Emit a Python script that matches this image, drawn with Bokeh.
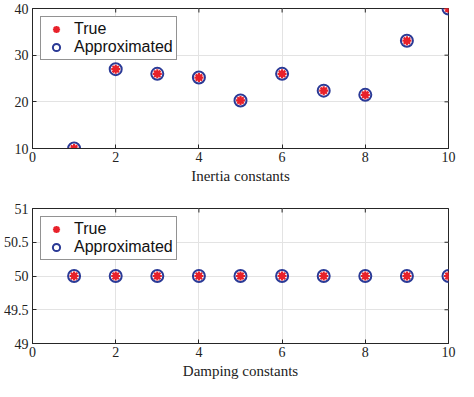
import math
from bokeh.plotting import figure
from bokeh.layouts import column
from bokeh.models import Range1d, FixedTicker, Legend, LegendItem
from bokeh.embed import file_html
from bokeh.resources import INLINE

# ---- data ----
inertia_x = [1, 2, 3, 4, 5, 6, 7, 8, 9, 10]
inertia_true = [10.0, 27.0, 26.0, 25.2, 20.3, 26.0, 22.4, 21.5, 33.1, 40.0]
inertia_approx = [10.0, 27.0, 26.0, 25.2, 20.3, 26.0, 22.4, 21.5, 33.1, 40.0]

damping_x = [1, 2, 3, 4, 5, 6, 7, 8, 9, 10]
damping_true = [50, 50, 50, 50, 50, 50, 50, 50, 50, 50]
damping_approx = [50, 50, 50, 50, 50, 50, 50, 50, 50, 50]

x_ticks = [0, 2, 4, 6, 8, 10]
top_y_ticks = [10, 20, 30, 40]
bot_y_ticks = [49, 49.5, 50, 50.5, 51]
bot_y_tick_labels = ["49", "49.5", "50", "50.5", "51"]

SERIF = "Liberation Serif"
SANS = "Liberation Sans"
DARK = "#262626"
BLUE = "#2b3a96"
RED = "#e8212a"


def make_fig(xs, ytrue, yapprox, yr, yticks, ylabels, xlabel, height, top_border):
    xr = (x_ticks[0], x_ticks[-1])
    p = figure(width=458, height=height, output_backend="svg", toolbar_location=None,
               x_range=Range1d(*xr), y_range=Range1d(*yr),
               min_border_left=10, min_border_right=10, min_border_top=top_border,
               min_border_bottom=0)
    p.outline_line_color = DARK
    p.outline_line_width = 1
    for ax in (p.xaxis[0], p.yaxis[0]):
        ax.axis_line_color = DARK
        ax.major_tick_line_color = DARK
        ax.major_tick_in = 4
        ax.major_tick_out = 0
        ax.minor_tick_line_color = None
        ax.major_label_text_font = SERIF
        ax.major_label_text_font_size = "14px"
        ax.major_label_text_color = "#222222"
        ax.major_label_standoff = 4
    p.xaxis[0].major_label_standoff = 3
    p.xaxis[0].ticker = FixedTicker(ticks=x_ticks)
    p.yaxis[0].ticker = FixedTicker(ticks=yticks)
    if ylabels is not None:
        p.yaxis[0].major_label_overrides = {t: l for t, l in zip(yticks, ylabels)}
    p.xaxis[0].axis_label = xlabel
    p.xaxis[0].axis_label_text_font = SERIF
    p.xaxis[0].axis_label_text_font_style = "normal"
    p.xaxis[0].axis_label_text_font_size = "15px"
    p.xaxis[0].axis_label_text_color = "#222222"
    p.xaxis[0].axis_label_standoff = 3

    p.xgrid.ticker = FixedTicker(ticks=x_ticks)
    p.ygrid.ticker = FixedTicker(ticks=yticks)
    p.grid.grid_line_color = "#e3e3e3"
    p.grid.grid_line_width = 1

    # inward tick marks on the top and right edges (MATLAB box style)
    p.scatter(x_ticks, [yr[1]] * len(x_ticks), marker="dash", angle=math.pi / 2,
              size=8, line_color=DARK, line_width=1)
    p.scatter([xr[1]] * len(yticks), yticks, marker="dash", size=8,
              line_color=DARK, line_width=1)

    r_approx = p.scatter(xs, yapprox, marker="circle", size=12, fill_color=None,
                         line_color=BLUE, line_width=2)
    r_fill = p.scatter(xs, ytrue, marker="circle", size=6, fill_color=RED,
                       line_color=None)
    r_true = p.scatter(xs, ytrue, marker="asterisk", size=9, line_color=RED,
                       line_width=2.2)

    legend = Legend(items=[LegendItem(label="True", renderers=[r_true]),
                           LegendItem(label="Approximated", renderers=[r_approx])],
                    location="top_left")
    legend.label_text_font = SANS
    legend.label_text_font_size = "16px"
    legend.label_text_color = "#111111"
    legend.border_line_color = DARK
    legend.border_line_width = 1
    legend.background_fill_color = "white"
    legend.background_fill_alpha = 1
    legend.margin = 8
    legend.padding = 3
    legend.spacing = 0
    legend.glyph_width = 24
    legend.glyph_height = 18
    legend.label_height = 18
    legend.label_standoff = 6
    p.add_layout(legend, "center")
    return p


p1 = make_fig(inertia_x, inertia_true, inertia_approx, (10, 40), top_y_ticks, None,
              "Inertia constants", 186, 8)
p2 = make_fig(damping_x, damping_true, damping_approx, (49, 51), bot_y_ticks,
              bot_y_tick_labels, "Damping constants", 195, 22)

layout = column(p1, p2, spacing=0)
open("out.html", "w").write(file_html(layout, INLINE))
